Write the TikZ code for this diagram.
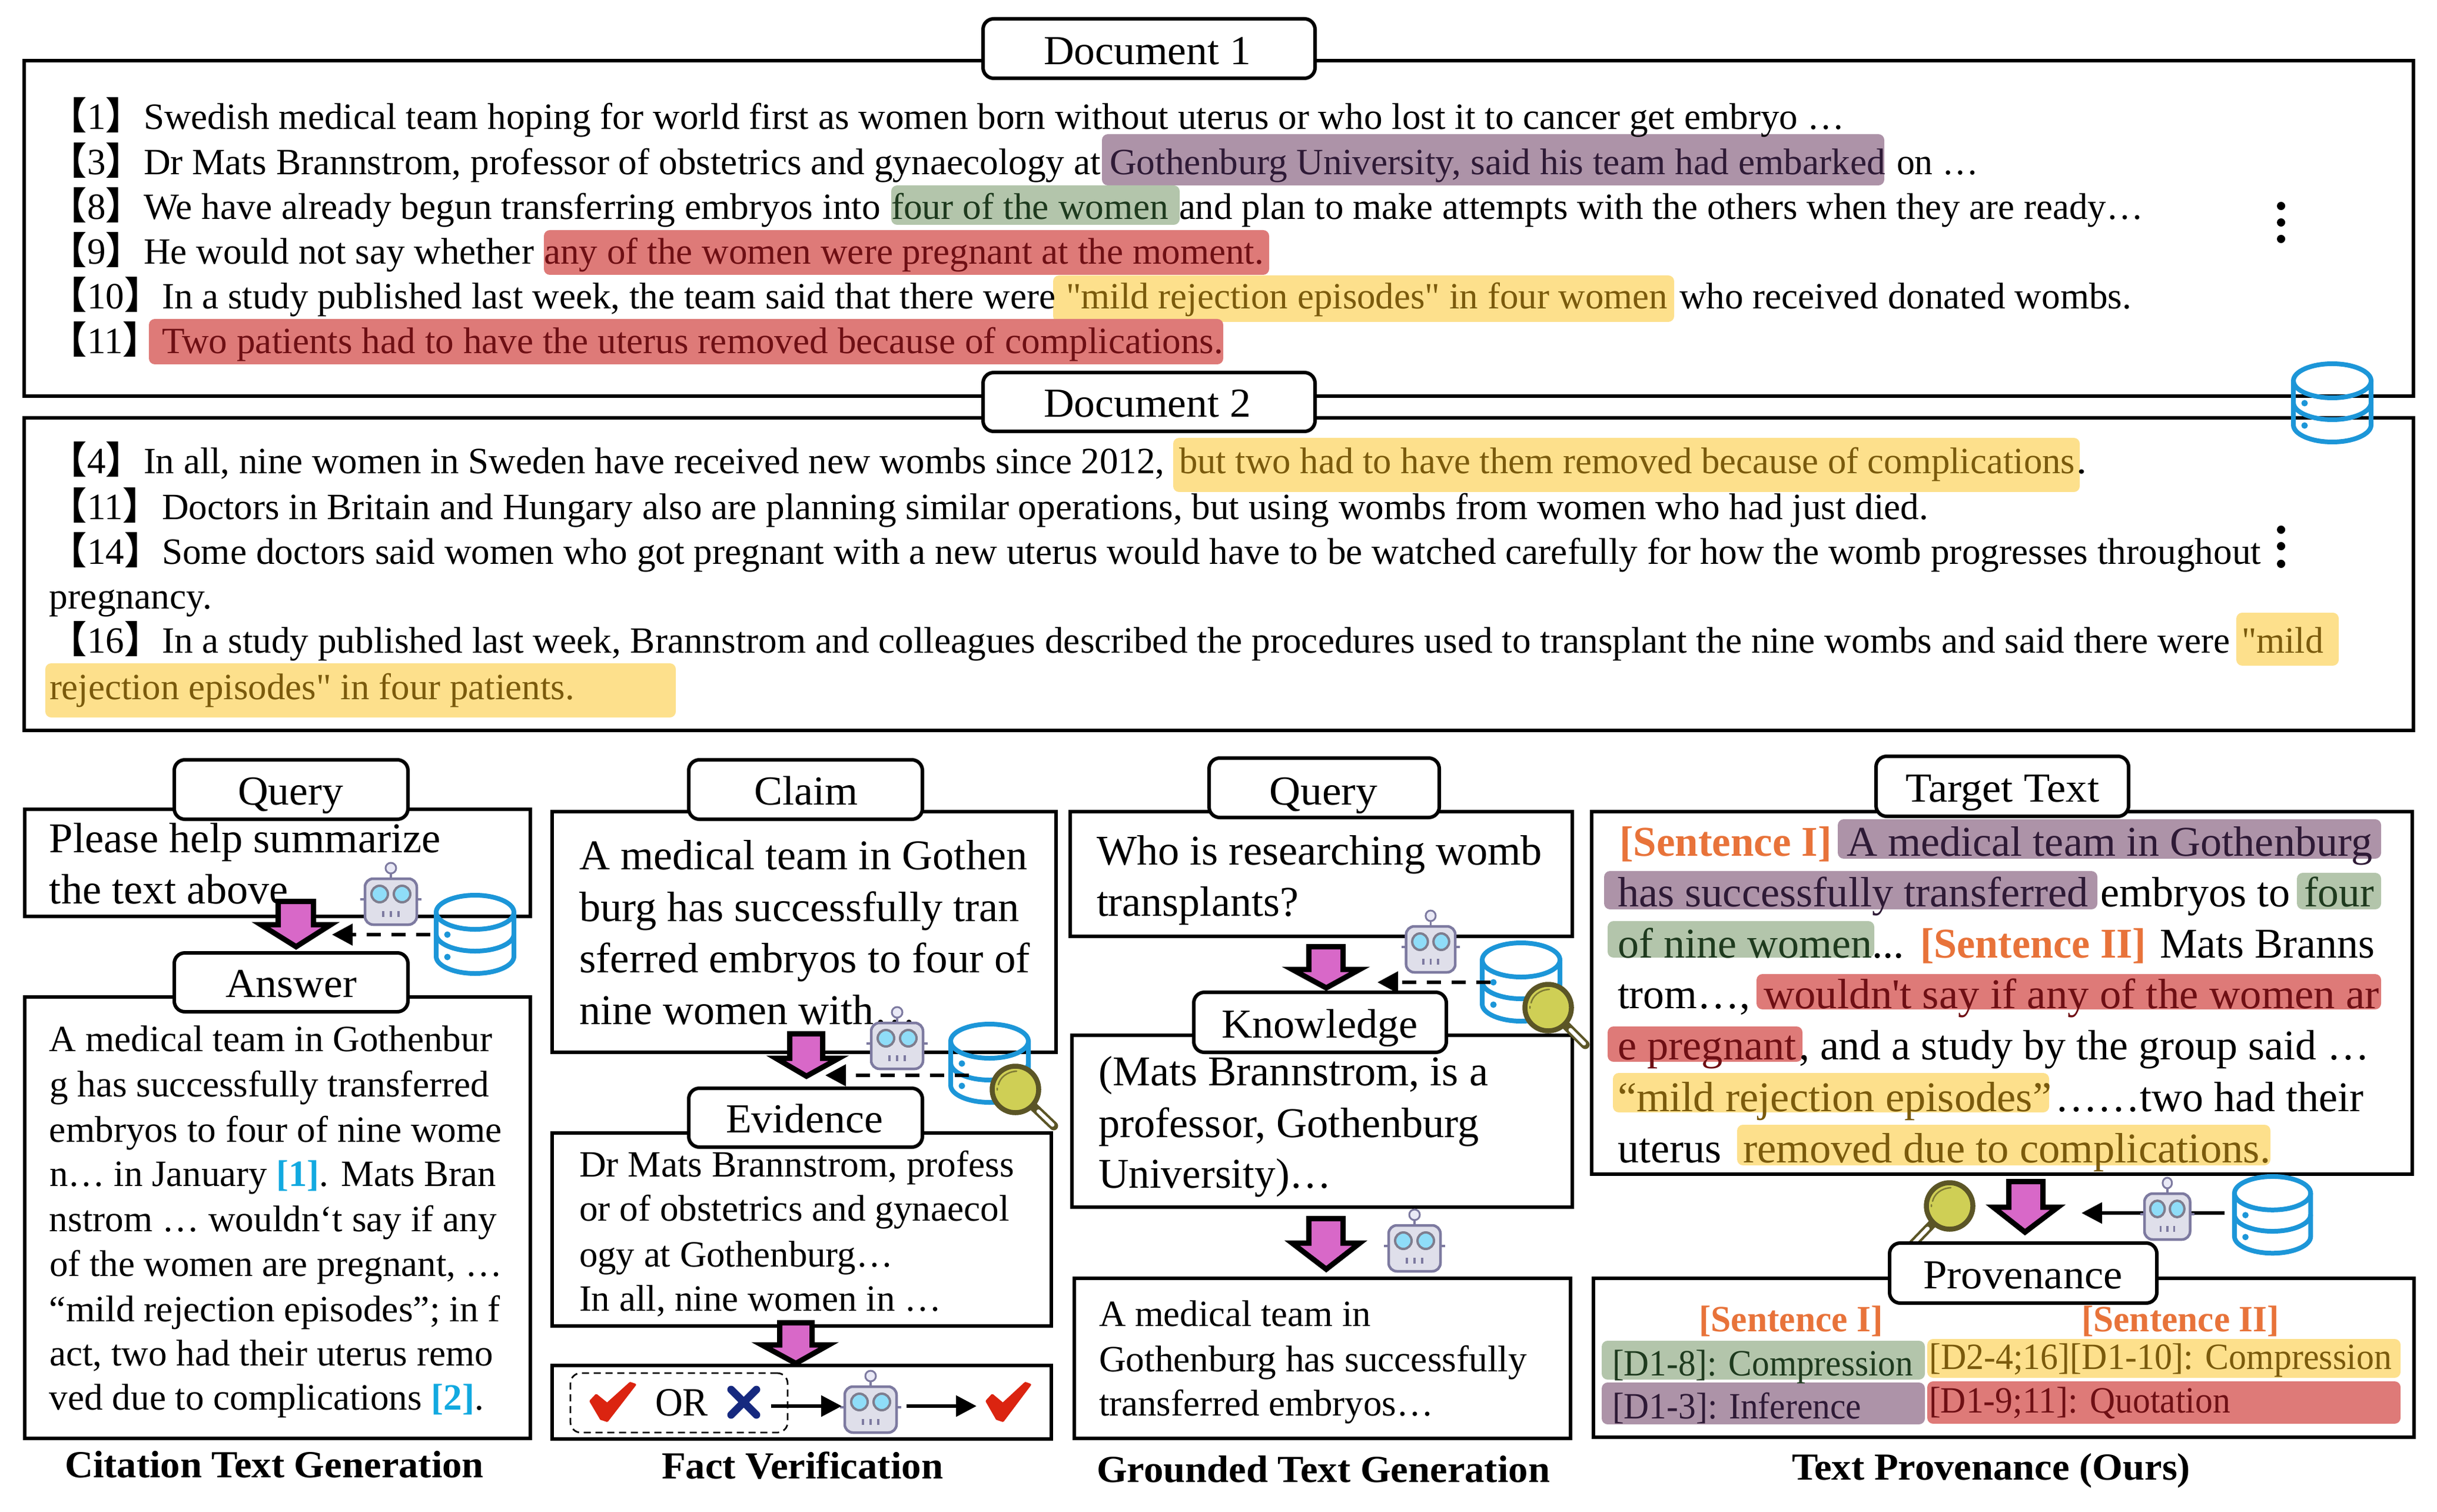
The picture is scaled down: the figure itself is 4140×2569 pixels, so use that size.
\documentclass[tikz,border=0pt]{standalone}
\usepackage{graphicx}
\usepackage{fontspec}
\setmainfont{Liberation Serif}
\newfontfamily\plainf{Liberation Serif}
\newfontfamily\cjk{Noto Sans CJK SC}
\usetikzlibrary{arrows.meta,calc}
\definecolor{hlP}{HTML}{AD93A8}\definecolor{hlG}{HTML}{B3C5AB}
\definecolor{hlR}{HTML}{DE7A78}\definecolor{hlY}{HTML}{FDE08C}
\definecolor{txP}{HTML}{2E1A36}\definecolor{txG}{HTML}{1E3A1E}
\definecolor{txR}{HTML}{6E0F14}\definecolor{txY}{HTML}{7A5A0C}
\definecolor{pinkA}{HTML}{D868C8}\definecolor{dbblue}{HTML}{1C96D8}
\definecolor{cite}{HTML}{12A9E0}\definecolor{sent}{HTML}{E8733A}
\definecolor{robE}{HTML}{7D7AA0}\definecolor{robF}{HTML}{DFDFEA}
\definecolor{robS}{HTML}{E9E9F6}\definecolor{eyeC}{HTML}{8FDDF8}
\definecolor{lensC}{HTML}{CFCF55}\definecolor{lensE}{HTML}{5B5526}
\definecolor{chk}{HTML}{DB2410}\definecolor{crs}{HTML}{16297F}
\newcount\tn
\newcommand\myFit[2]{\setbox0=\hbox{#2}\scalebox{\fpeval{0.2*(#1)/\the\wd0}}[1]{\box0}}
\newcommand\qq{{\plainf "}}
% x1 x2 baseline size colour text
\newcommand\myT[6]{\global\advance\tn by 1
  \node[txt,text=#5] (t\the\tn) at (#1,#3) {\fontsize{#4}{#4}\selectfont\myFit{#2-#1}{#6}};}
% bracket label
\newcommand\myB[3]{\global\advance\tn by 1
  \node[txt] (t\the\tn) at (#1,#2) {\fontsize{12.6}{12.6}\selectfont{\cjk\bfseries 【}#3{\cjk\bfseries 】}};}
% highlight x1 y1 x2 y2 colour
\newcommand\myHL[5]{\fill[#5,rounded corners=2pt] (#1,#2) rectangle (#3,#4);}
\newcommand\myTitle[5]{% name x1 y1 x2 y2
  \node[titlebox,minimum width={(#4-#2)*0.2pt},minimum height={(#5-#3)*0.2pt}] (#1) at ({(#2+#4)/2},{(#3+#5)/2}) {};}
\newcommand\myFrame[5]{\node[framebox,minimum width={(#4-#2)*0.2pt},minimum height={(#5-#3)*0.2pt}] (#1) at ({(#2+#4)/2},{(#3+#5)/2}) {};}
\newcommand\myFat[8]{% tipx tipy shaftL shaftR top wingY wingL wingR
  \draw[fatarrow] (#3+4.5,#5+4.5) -- (#4-4.5,#5+4.5) -- (#4-4.5,#6+5) -- (#8-15,#6+5) -- (#1,#2-5.5) -- (#7+15,#6+5) -- (#3+4.5,#6+5) -- cycle;}
\newcommand\myDB[4]{% name x y scale
  \coordinate (#1) at (#2,#3);
  \begin{scope}[shift={(#2,#3)},scale=#4]
  \draw[dbline] (70,4) .. controls (34,4) and (4,17) .. (4,33) .. controls (4,49) and (34,62) .. (70,62)
     .. controls (106,62) and (136,49) .. (136,33) .. controls (136,17) and (106,4) .. (70,4) -- cycle;
  \draw[dbline] (4,33) -- (4,108) .. controls (4,124) and (34,137) .. (70,137) .. controls (106,137) and (136,124) .. (136,108) -- (136,33);
  \draw[dbline] (4,70) .. controls (4,86) and (34,99) .. (70,99) .. controls (106,99) and (136,86) .. (136,70);
  \fill[dbblue] (23,71) circle[radius=1.1pt] (23,109) circle[radius=1.1pt];
  \end{scope}}
\newcommand\myRobot[4]{% name x y xscale
  \coordinate (#1) at (#2,#3);
  \begin{scope}[shift={(#2,#3)},xscale=#4]
  \draw[robE,line width=.7pt] (52,19) -- (52,28);
  \draw[robE,line width=.6pt,fill=robS] (52,10) circle[radius=1.8pt];
  \draw[robE,line width=.7pt] (0,63) -- (104,63);
  \draw[robE,line width=.9pt,fill=robF,rounded corners=2.8pt] (8,28) rectangle (96,106);
  \draw[gray!55!robE,line width=.8pt,fill=eyeC] (33,54) circle[radius=2.8pt] (71,54) circle[radius=2.8pt];
  \draw[robE,line width=.7pt] (39,83) -- (39,93) (52,83) -- (52,93) (65,83) -- (65,93);
  \end{scope}}
\newcommand\myMag[5]{% name cx cy ex ey
  \coordinate (#1) at (#2,#3);
  \draw[lensE,line width=3pt,line cap=round] (#2,#3) -- (#4,#5);
  \draw[white,line width=1.3pt,line cap=round] ($(#2,#3)!.6!(#4,#5)$) -- ($(#2,#3)!.97!(#4,#5)$);
  \draw[lensE,line width=1.7pt,fill=lensC] (#2,#3) circle[radius=7.9pt];
  \begin{scope}[shift={(#2,#3)}]
  \draw[lensE!70!lensC,line width=.5pt,line cap=round] (-29,-8) .. controls (-26,-20) and (-15,-30) .. (2,-31) (-31,-2) -- (-31,1);
  \end{scope}}
\newcommand\myChk[5]{% name x y w h
  \coordinate (#1) at (#2,#3);
  \begin{scope}[shift={(#2,#3)},xscale=#4,yscale=#5]
  \fill[chk,draw=chk,line width=.8pt,line join=round] (.03,.48) -- (.15,.33) -- (.38,.55) -- (.87,.03) -- (.97,.07) -- (.38,.97) -- (.25,.92) -- cycle;
  \end{scope}}
\tikzset{
 txt/.style={anchor=base west,inner sep=0pt,outer sep=0pt,text=black},
 framebox/.style={draw=black,line width=1.3pt,inner sep=0pt,outer sep=0pt},
 titlebox/.style={draw=black,fill=white,line width=1.2pt,rounded corners=3.6pt,inner sep=0pt,outer sep=0pt},
 fatarrow/.style={draw=black,fill=pinkA,line width=1.8pt,miter limit=10},
 dbline/.style={draw=dbblue,line width=1.6pt},
 dasharrow/.style={line width=1.2pt,dash pattern=on 4.8pt off 3.6pt,-{Triangle[length=7pt,width=7.2pt]}},
 solidarrow/.style={line width=1.3pt,-{Triangle[length=7pt,width=7pt]}},
 dotc/.style={circle,fill=black,inner sep=0pt,minimum size=2.8pt},
}
\begin{document}
\begin{tikzpicture}[x=0.2pt,y=-0.2pt]
\useasboundingbox (0,0) rectangle (4140,2569);
\fill[white] (0,0) rectangle (4140,2569);
% Documents
\myFrame{doca}{41}{103}{4100}{673}
\myFrame{docb}{41}{710}{4100}{1241}
\myHL{1872}{228}{3201}{315}{hlP}
\myHL{1514}{315}{2004}{382}{hlG}
\myHL{924}{391}{2156}{467}{hlR}
\myHL{1789}{468}{2844}{547}{hlY}
\myHL{253}{542}{2078}{619}{hlR}
\myHL{1993}{744}{3533}{836}{hlY}
\myHL{3799}{1041}{3973}{1131}{hlY}
\myHL{77}{1127}{1148}{1219}{hlY}
\myB{85}{220}{1}\myT{244}{3133}{220}{12.6}{black}{Swedish medical team hoping for world first as women born without uterus or who lost it to cancer get embryo …}
\myB{85}{297}{3}\myT{244}{1870}{297}{12.6}{black}{Dr Mats Brannstrom, professor of obstetrics and gynaecology at}
\myT{1885}{3203}{297}{12.6}{txP}{Gothenburg University, said his team had embarked}
\myT{3222}{3361}{297}{12.6}{black}{on …}
\myB{85}{373}{8}\myT{244}{1496}{373}{12.6}{black}{We have already begun transferring embryos into}
\myT{1514}{1985}{373}{12.6}{txG}{four of the women}
\myT{2003}{3641}{373}{12.6}{black}{and plan to make attempts with the others when they are ready…}
\myB{85}{449}{9}\myT{244}{907}{449}{12.6}{black}{He would not say whether}
\myT{924}{2147}{449}{12.6}{txR}{any of the women were pregnant at the moment.}
\myB{85}{525}{10}\myT{275}{1793}{525}{12.6}{black}{In a study published last week, the team said that there were}
\myT{1811}{2833}{525}{12.6}{txY}{\qq mild rejection episodes\qq{} in four women}
\myT{2853}{3621}{525}{12.6}{black}{who received donated wombs.}
\myB{85}{601}{11}\myT{275}{2078}{601}{12.6}{txR}{Two patients had to have the uterus removed because of complications.}
\myB{85}{805}{4}\myT{244}{1978}{805}{12.6}{black}{In all, nine women in Sweden have received new wombs since 2012,}
\myT{2003}{3525}{805}{12.6}{txY}{but two had to have them removed because of complications}
\myT{3527}{3545}{805}{12.6}{black}{.}
\myB{85}{882}{11}\myT{275}{3276}{882}{12.6}{black}{Doctors in Britain and Hungary also are planning similar operations, but using wombs from women who had just died.}
\myB{85}{958}{14}\myT{275}{3841}{958}{12.6}{black}{Some doctors said women who got pregnant with a new uterus would have to be watched carefully for how the womb progresses throughout}
\myT{84}{360}{1034}{12.6}{black}{pregnancy.}
\myB{85}{1109}{16}\myT{275}{3788}{1109}{12.6}{black}{In a study published last week, Brannstrom and colleagues described the procedures used to transplant the nine wombs and said there were}
\myT{3808}{3947}{1109}{12.6}{txY}{\qq mild}
\myT{84}{976}{1188}{12.6}{txY}{rejection episodes\qq{} in four patients.}
\myTitle{tdoca}{1670}{32}{2234}{133}
\myTitle{tdocb}{1670}{633}{2234}{733}
\myT{1773}{2125}{110}{14}{black}{Document 1}
\myT{1773}{2125}{709}{14}{black}{Document 2}
\foreach \yy in {350,378,406,900,928,958}{\node[dotc] (dot\yy) at (3875,\yy) {};}
\myDB{dbtop}{3892}{614}{1}
% Panel A
\myFrame{qa}{42}{1375}{901}{1557}
\myFrame{aa}{42}{1694}{901}{2444}
\myT{84}{749}{1448}{14.4}{black}{Please help summarize}
\myT{84}{490}{1535}{14.4}{black}{the text above}
\myTitle{tqa}{296}{1291}{693}{1392}
\myT{404}{583}{1367}{14}{black}{Query}
\myT{84}{836}{1786}{12.6}{black}{A medical team in Gothenbur}
\myT{84}{831}{1863}{12.6}{black}{g has successfully transferred}
\myT{84}{853}{1940}{12.6}{black}{embryos to four of nine wome}
\myT{84}{843}{2015}{12.6}{black}{n… in January {\textcolor{cite}{\textbf{[1]}}}. Mats Bran}
\myT{84}{844}{2092}{12.6}{black}{nstrom … wouldn‘t say if any}
\myT{84}{853}{2168}{12.6}{black}{of the women are pregnant, …}
\myT{84}{850}{2245}{12.6}{black}{“mild rejection episodes”; in f}
\myT{84}{838}{2320}{12.6}{black}{act, two had their uterus remo}
\myT{84}{822}{2395}{12.6}{black}{ved due to complications {\textcolor{cite}{\textbf{[2]}}}.}
\myTitle{taa}{296}{1619}{693}{1719}
\myT{383}{606}{1694}{14}{black}{Answer}
\myFat{503}{1614}{468}{537}{1527}{1566}{428}{577}
\myRobot{ra}{612}{1465}{1}
\myDB{dba}{737}{1517}{1}
\coordinate (arra) at (564,1588);
\draw[dasharrow] (dba)++(-6,71) -- (arra);
\myT{110}{822}{2510}{13}{black}{\textbf{Citation Text Generation}}
% Panel B
\myFrame{qb}{938}{1379}{1794}{1788}
\myFrame{eb}{938}{1925}{1786}{2253}
\myFrame{vb}{938}{2320}{1786}{2445}
\myT{984}{1745}{1477}{14.4}{black}{A medical team in Gothen}
\myT{984}{1732}{1565}{14.4}{black}{burg has successfully tran}
\myT{984}{1750}{1652}{14.4}{black}{sferred embryos to four of}
\myT{984}{1556}{1740}{14.4}{black}{nine women with…}
\myTitle{tqb}{1170}{1291}{1567}{1392}
\myT{1281}{1457}{1367}{14}{black}{Claim}
\myT{984}{1723}{1999}{12.6}{black}{Dr Mats Brannstrom, profess}
\myT{984}{1715}{2074}{12.6}{black}{or of obstetrics and gynaecol}
\myT{984}{1517}{2152}{12.6}{black}{ogy at Gothenburg…}
\myT{984}{1599}{2227}{12.6}{black}{In all, nine women in …}
\myTitle{teb}{1170}{1849}{1567}{1949}
\myT{1233}{1500}{1924}{14}{black}{Evidence}
\myFat{1370}{1834}{1337}{1402}{1752}{1793}{1303}{1440}
\myRobot{rb}{1472}{1710}{1}
\myDB{dbb}{1611}{1736}{1}
\coordinate (arrb) at (1402,1827);
\draw[dasharrow] (dbb)++(35,91) -- (arrb);
\myMag{magb}{1725}{1851}{1790}{1913}
\myFat{1352}{2322}{1320}{1384}{2243}{2280}{1279}{1423}
% verification row
\node[draw=black,line width=.55pt,dash pattern=on 2.4pt off 1.6pt,rounded corners=3.5pt,inner sep=0pt,minimum width=73.8pt,minimum height=20.2pt] (orbox) at (1153.5,2383.5) {};
\myChk{chka}{1001}{2348}{80}{68}
\myT{1113}{1203}{2405}{13.6}{black}{OR}
\draw[crs,line width=2.6pt,line cap=round] (1242,2361) -- (1285,2404) (1285,2361) -- (1242,2404);
\coordinate (crsend) at (1310,2389);
\myRobot{rc}{1427}{2328}{1}
\coordinate (rcin) at (1430,2389);\coordinate (rcout) at (1540,2389);\coordinate (chkin) at (1659,2389);
\draw[solidarrow] (crsend) -- (rcin);
\draw[solidarrow] (rcout) -- (chkin);
\myChk{chkb}{1674}{2348}{78}{68}
\myT{1124}{1602}{2512}{13}{black}{\textbf{Fact Verification}}
% Panel C
\myFrame{qc}{1818}{1379}{2671}{1591}
\myFrame{kc}{1821}{1759}{2671}{2051}
\myFrame{ac}{1825}{2172}{2668}{2444}
\myT{1863}{2620}{1469}{14.4}{black}{Who is researching womb}
\myT{1863}{2206}{1556}{14.4}{black}{transplants?}
\myTitle{tqc}{2054}{1288}{2445}{1389}
\myT{2156}{2340}{1367}{14}{black}{Query}
\myT{1866}{2528}{1844}{14.4}{black}{(Mats Brannstrom, is a}
\myT{1866}{2513}{1932}{14.4}{black}{professor, Gothenburg}
\myT{1866}{2262}{2018}{14.4}{black}{University)…}
\myTitle{tkc}{2028}{1686}{2457}{1788}
\myT{2075}{2409}{1763}{14}{black}{Knowledge}
\myT{1867}{2329}{2253}{12.6}{black}{A medical team in}
\myT{1867}{2594}{2330}{12.6}{black}{Gothenburg has successfully}
\myT{1867}{2435}{2405}{12.6}{black}{transferred embryos…}
\myFat{2253}{1684}{2219}{2286}{1604}{1642}{2180}{2325}
\myRobot{rd}{2381}{1546}{.95}
\myDB{dbc}{2514}{1598}{1}
\coordinate (arrc) at (2340,1669);
\draw[dasharrow] (dbc)++(18,71) -- (arrc);
\myMag{magc}{2630}{1712}{2693}{1775}
\myFat{2253}{2162}{2219}{2286}{2066}{2107}{2180}{2325}
\myRobot{re}{2351}{2054}{1}
\myT{1863}{2633}{2518}{13}{black}{\textbf{Grounded Text Generation}}
% Panel D
\myFrame{td}{2704}{1379}{4098}{1995}
\myFrame{pd}{2707}{2172}{4101}{2442}
\myHL{3122}{1392}{4045}{1459}{hlP}
\myHL{2725}{1480}{3563}{1545}{hlP}
\myHL{3902}{1483}{4045}{1545}{hlG}
\myHL{2731}{1565}{3184}{1627}{hlG}
\myHL{2984}{1655}{4045}{1715}{hlR}
\myHL{2731}{1744}{3062}{1804}{hlR}
\myHL{2740}{1823}{3481}{1890}{hlY}
\myHL{2951}{1911}{3857}{1980}{hlY}
\myT{2751}{3112}{1454}{14.4}{sent}{\textbf{[Sentence I]}}
\myT{3137}{4030}{1454}{14.4}{txP}{A medical team in Gothenburg}
\myT{2748}{3548}{1540}{14.4}{txP}{has successfully transferred}
\myT{3568}{3891}{1540}{14.4}{black}{embryos to}
\myT{3914}{4033}{1540}{14.4}{txG}{four}
\myT{2748}{3180}{1627}{14.4}{txG}{of nine women}
\myT{3180}{3235}{1627}{14.4}{black}{...}
\myT{3262}{3646}{1627}{14.4}{sent}{\textbf{[Sentence II]}}
\myT{3669}{4034}{1627}{14.4}{black}{Mats Branns}
\myT{2748}{2973}{1713}{14.4}{black}{trom…,}
\myT{2996}{4042}{1713}{14.4}{txR}{wouldn{\plainf '}t say if any of the women ar}
\myT{2748}{3052}{1800}{14.4}{txR}{e pregnant}
\myT{3056}{4025}{1800}{14.4}{black}{, and a study by the group said …}
\myT{2748}{3485}{1888}{14.4}{txY}{“mild rejection episodes”}
\myT{3491}{4015}{1888}{14.4}{black}{……two had their}
\myT{2748}{2924}{1975}{14.4}{black}{uterus}
\myT{2961}{3857}{1975}{14.4}{txY}{removed due to complications.}
\myTitle{ttd}{3187}{1285}{3616}{1387}
\myT{3237}{3566}{1362}{14}{black}{Target Text}
\myMag{magd}{3312}{2049}{3250}{2113}
\myFat{3440}{2099}{3408}{3475}{2003}{2046}{3371}{3511}
\myDB{dbd}{3792}{1995}{.98}
\coordinate (dbdin) at (3779,2061);\coordinate (arrd) at (3536,2061);
\draw[solidarrow] (dbdin) -- (arrd);
\myRobot{rf}{3636}{2000}{.88}
\myTitle{tpd}{3210}{2112}{3664}{2214}
\myT{3267}{3606}{2189}{14}{black}{Provenance}
\myHL{2721}{2278}{3270}{2344}{hlG}
\myHL{2721}{2349}{3270}{2420}{hlP}
\myHL{3274}{2275}{4078}{2341}{hlY}
\myHL{3274}{2347}{4078}{2419}{hlR}
\myT{2886}{3199}{2262}{12.6}{sent}{\textbf{[Sentence I]}}
\myT{3536}{3872}{2262}{12.6}{sent}{\textbf{[Sentence II]}}
\myT{2739}{3250}{2337}{12.6}{txG}{[D1-8]: Compression}
\myT{2739}{3162}{2410}{12.6}{txP}{[D1-3]: Inference}
\myT{3277}{4063}{2326}{12.6}{txY}{[D2-4;16][D1-10]: Compression}
\myT{3277}{3789}{2400}{12.6}{txR}{[D1-9;11]: Quotation}
\myT{3044}{3721}{2514}{13}{black}{\textbf{Text Provenance (Ours)}}
\end{tikzpicture}
\end{document}
